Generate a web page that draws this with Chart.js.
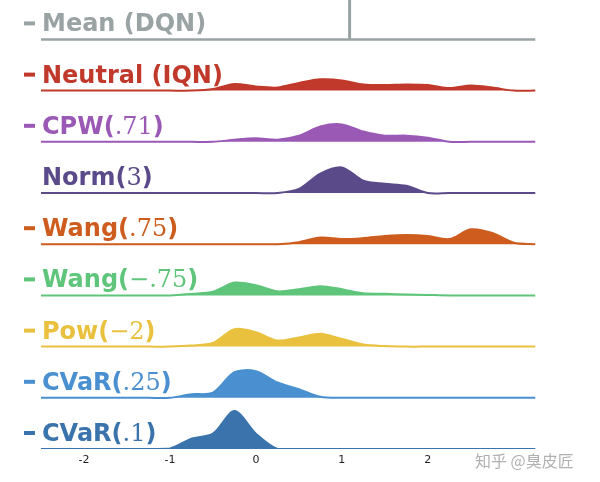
<!DOCTYPE html>
<html><head><meta charset="utf-8">
<script src="https://cdn.jsdelivr.net/npm/chart.js@4"></script>
<style>html,body{margin:0;padding:0;background:#fff}</style>
</head><body>
<canvas id="c" width="600" height="482" style="width:600px;height:482px"></canvas>
<script>
const xGrid = [-2.5,-2.25,-2,-1.75,-1.5,-1.25,-1,-0.75,-0.5,-0.25,0,0.25,0.5,0.75,1,1.25,1.5,1.75,2,2.25,2.5,2.75,3,3.25];
const seriesNames = ['Neutral (IQN)','CPW(.71)','Norm(3)','Wang(.75)','Wang(−.75)','Pow(−2)','CVaR(.25)','CVaR(.1)'];
const labelParts = [
  [['Mean (DQN)',0]],
  [['Neutral (IQN)',0]],
  [['CPW(',0],['.71',1],[')',0]],
  [['Norm(',0],['3',1],[')',0]],
  [['Wang(',0],['.75',1],[')',0]],
  [['Wang(',0],['−.75',1],[')',0]],
  [['Pow(',0],['−2',1],[')',0]],
  [['CVaR(',0],['.25',1],[')',0]],
  [['CVaR(',0],['.1',1],[')',0]]
];
const colors = ['#99a3a4','#c0392b','#9b59b6','#5b4a8a','#cd5c1e','#5ec57a','#e9c13f','#4a90d0','#3b74ad'];
const showDash = [1,1,1,0,1,1,1,1,1];
const neutral = [0,0,0,0,0,0,0,0,0.03,0.13,0.08,0.06,0.15,0.22,0.2,0.12,0.11,0.12,0.11,0.05,0.1,0.06,0,0];
const cpw     = [0,0,0,0,0,0,0,0,0,0.04,0.07,0.04,0.12,0.3,0.34,0.2,0.12,0.12,0.08,0,0,0,0,0];
const norm3   = [0,0,0,0,0,0,0,0,0,0,0,0,0.08,0.38,0.5,0.24,0.18,0.14,0,0,0,0,0,0];
const wangP   = [0,0,0,0,0,0,0,0,0,0,0,0,0.04,0.13,0.1,0.12,0.16,0.18,0.16,0.1,0.29,0.22,0.03,0];
const wangN   = [0,0,0,0,0,0,0,0.03,0.07,0.25,0.2,0.08,0.12,0.18,0.12,0.04,0.03,0.02,0.01,0,0,0,0,0];
const pow2    = [0,0,0,0,0,0,0,0.02,0.07,0.34,0.28,0.12,0.18,0.25,0.15,0.04,0.01,0,0,0,0,0,0,0];
const cvar25  = [0,0,0,0,0,0,0,0.07,0.1,0.5,0.52,0.3,0.17,0.02,0,0,0,0,0,0,0,0,0,0];
const cvar1   = [0,0,0,0,0,0,0.01,0.2,0.3,0.74,0.3,0,0,0,0,0,0,0,0,0,0,0,0,0];
const densities = [neutral,cpw,norm3,wangP,wangN,pow2,cvar25,cvar1];
const meanDQN = 1.09;

const N = 9;
const datasets = [];
datasets.push({data:[{x:-2.5,y:N-1},{x:3.25,y:N-1}],borderColor:colors[0],borderWidth:2.5,pointRadius:0,fill:false});
datasets.push({data:[{x:meanDQN,y:N-1},{x:meanDQN,y:N-0.2}],borderColor:colors[0],borderWidth:3,pointRadius:0,fill:false});
densities.forEach((d,i)=>{
  const off = N-2-i;
  datasets.push({
    data: xGrid.map((x,k)=>({x:x,y:off+d[k]})),
    borderColor: colors[i+1], backgroundColor: colors[i+1], borderWidth:2,
    pointRadius:0, tension:0.3, fill:{value:off}
  });
});

const labelPlugin = {
  id:'labels',
  afterDraw(chart){
    const ctx = chart.ctx, ys = chart.scales.y;
    labelParts.forEach((parts,i)=>{
      const by = ys.getPixelForValue(N-1-i);
      let x = 42; const ty = by-8;
      ctx.save(); ctx.fillStyle = colors[i]; ctx.textBaseline='alphabetic';
      if(showDash[i]) ctx.fillRect(24, ty-10, 11, 4);
      parts.forEach(([t,m])=>{
        ctx.font = m ? '24px "DejaVu Serif"' : 'bold 24px "DejaVu Sans"';
        ctx.fillText(t,x,ty); x += ctx.measureText(t).width;
      });
      ctx.restore();
    });
    ctx.save(); ctx.fillStyle='rgba(150,150,150,0.75)'; ctx.font='16px "Noto Sans CJK SC"';
    ctx.textBaseline='middle'; ctx.fillText('知乎 @臭皮匠',475,461); ctx.restore();
  }
};

new Chart(document.getElementById('c'),{
  type:'line',
  data:{datasets},
  options:{
    responsive:false, animation:false,
    layout:{padding:{left:41,right:63,top:0,bottom:0}},
    plugins:{legend:{display:false},tooltip:{enabled:false}},
    scales:{
      x:{type:'linear',min:-2.5,max:3.27,
         grid:{display:false,drawTicks:false},border:{display:false},
         ticks:{stepSize:1,padding:5,color:'#222',font:{size:11,family:'DejaVu Sans'},callback:v=>Number.isInteger(v)?String(v):''},
         afterFit(s){s.height=33;}},
      y:{display:false,min:0,max:8.77}
    }
  },
  plugins:[labelPlugin]
});
</script>
</body></html>
